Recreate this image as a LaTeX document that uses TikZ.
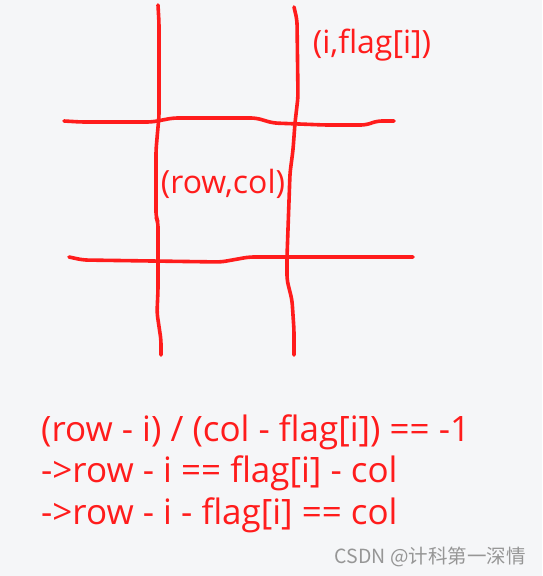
\documentclass[tikz,border=0pt]{standalone}
\usepackage{fontspec}
\setmainfont{Open Sans}
\newfontfamily\cjkfont{Noto Sans CJK SC}
\definecolor{bgc}{RGB}{245,246,248}
\definecolor{pen}{RGB}{255,28,28}
\definecolor{wm}{RGB}{150,150,150}
\tikzset{
  stroke/.style={draw=pen, line width=3.6pt, line cap=round, line join=round, rounded corners=5pt},
  lbl/.style={text=pen, inner sep=0pt, font=\fontsize{32}{38}\selectfont},
  eq/.style={text=pen, inner sep=0pt, anchor=west, font=\fontsize{35}{42}\selectfont},
  wmark/.style={text=wm, inner sep=0pt, font=\cjkfont\fontsize{19.5}{23}\selectfont}
}
\begin{document}
\begin{tikzpicture}[x=1pt,y=-1pt]
\fill[bgc] (0,0) rectangle (542,576);
\useasboundingbox (0,0) rectangle (542,576);
% vertical lines
\draw[stroke] (158,5) -- (159,23) -- (159,117) -- (158,127) -- (156,150) -- (156,217) -- (158,222) -- (158,290) -- (157,313) -- (161,340) -- (161,355);
\draw[stroke] (294,7) -- (297,20) -- (298,97) -- (295,123) -- (293,150) -- (290,173) -- (287,257) -- (287,280) -- (292,300) -- (294,330) -- (294,355);
% horizontal lines
\draw[stroke] (64,121) -- (81,122) -- (152,122) -- (173,118) -- (256,118) -- (273,123) -- (325,125) -- (366,125) -- (377,121) -- (394,121);
\draw[stroke] (69,257) -- (83,260) -- (221,262) -- (249,257) -- (342,257) -- (413,257);
% labels
\node[lbl] (top) at (372,45) {(i,flag[i])};
\node[lbl] (mid) at (223,184) {(row,col)};
\node[eq] (e1) at (41,432) {(row - i) / (col - flag[i]) == -1};
\node[eq] (e2) at (41,473) {->row - i == flag[i] - col};
\node[eq] (e3) at (41,515) {->row - i - flag[i] == col};
\node[wmark, anchor=east] (w) at (526,557) {CSDN @计科第一深情};
\end{tikzpicture}
\end{document}
